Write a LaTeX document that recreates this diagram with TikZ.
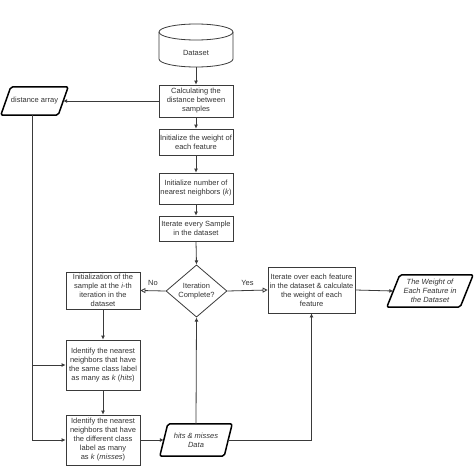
\documentclass[tikz,border=0pt]{standalone}
\usepackage{fontspec}
\setmainfont{Liberation Sans}
\usetikzlibrary{arrows.meta,shapes.geometric}
\definecolor{ln}{HTML}{3A3A3A}
\definecolor{tx}{HTML}{333333}
\begin{document}
\begin{tikzpicture}[x=1pt,y=-1pt,
  every node/.style={font=\fontsize{7.5}{9}\selectfont, text=tx},
  box/.style={draw=ln, line width=0.8pt, rectangle, inner sep=0pt, align=center},
  io/.style={inner sep=0pt, align=center},
  pgram/.style={draw=black, line width=1.5pt, rounded corners=2pt, line join=round},
  thin/.style={draw=ln, line width=0.8pt},
  flow/.style={draw=ln, line width=0.8pt, -{Latex[length=4pt,width=4pt]}},
  oflow/.style={draw=ln, line width=0.8pt, -{Triangle[open,length=5pt,width=5pt]}},
]
\useasboundingbox (0,0) rectangle (474,466);

% Dataset cylinder
\draw[thin] (196,32) ellipse [x radius=37, y radius=8];
\draw[thin] (159,32) -- (159,59) .. controls (159,63.4) and (175.6,67) .. (196,67)
  .. controls (216.4,67) and (233,63.4) .. (233,59) -- (233,32);
\node[io, minimum width=74pt, minimum height=28pt] (ds) at (196,53) {Dataset};

% main column
\node[box, minimum width=74pt, minimum height=32pt] (calc) at (196,101) {Calculating the\\distance between\\samples};
\node[box, minimum width=74pt, minimum height=26pt] (wt) at (196,142) {Initialize the weight of\\each feature};
\node[box, minimum width=74pt, minimum height=31pt] (knum) at (196,188.5) {Initialize number of\\nearest neighbors (\textit{k})};
\node[box, minimum width=74pt, minimum height=25pt] (iter) at (196,228.5) {Iterate every Sample\\in the dataset};
\node[draw=ln, line width=0.8pt, diamond, inner sep=0pt, minimum width=61pt, minimum height=48pt, align=center] (dia) at (196.5,291) {Iteration\\Complete?};

% left column
\node[box, minimum width=74pt, minimum height=37pt] (init) at (103,290.5) {Initialization of the\\sample at the \textit{i}-th\\iteration in the\\dataset};
\node[box, minimum width=74pt, minimum height=50pt] (hits) at (103,365) {Identify the nearest\\neighbors that have\\the same class label\\as many as \textit{k} (\textit{hits})};
\node[box, minimum width=74pt, minimum height=50pt] (miss) at (103,440) {Identify the nearest\\neighbors that have\\the different class\\label as many\\as \textit{k} (\textit{misses})};

% right
\node[box, minimum width=87pt, minimum height=46pt] (feat) at (311.5,290) {Iterate over each feature\\in the dataset \& calculate\\the weight of each\\feature};

% parallelograms
\node[io, minimum width=57pt, minimum height=28pt] (dist) at (34.5,101) {distance array};
\draw[pgram] ([xshift=-5pt]dist.south west) -- ([xshift=-5pt]dist.south east) -- ([xshift=5pt]dist.north east) -- ([xshift=5pt]dist.north west) -- cycle;

\node[io, minimum width=73pt, minimum height=32pt, font=\fontsize{7.5}{9}\selectfont\itshape] (wout) at (430,291) {The Weight of\\Each Feature in\\the Dataset};
\draw[pgram] ([xshift=-6.5pt]wout.south west) -- ([xshift=-6.5pt]wout.south east) -- ([xshift=6.5pt]wout.north east) -- ([xshift=6.5pt]wout.north west) -- cycle;

\node[io, minimum width=64pt, minimum height=32pt, font=\fontsize{7.5}{9}\selectfont\itshape] (hm) at (196,440) {hits \& misses\\Data};
\draw[pgram] ([xshift=-4pt]hm.south west) -- ([xshift=-4pt]hm.south east) -- ([xshift=4pt]hm.north east) -- ([xshift=4pt]hm.north west) -- cycle;

% connectors
\draw[flow] (ds.south) -- (calc.north);
\draw[flow] (calc.south) -- (wt.north);
\draw[flow] (wt.south) -- (knum.north);
\draw[flow] (knum.south) -- (iter.north);
\draw[flow] (iter.south) -- (dia.north);
\draw[flow] (calc.west) -- (dist.east);
\draw[oflow] (dia.west) -- node[above=1pt]{No} (init.east);
\draw[oflow] (dia.east) -- node[above=1pt]{Yes} (feat.west);
\draw[flow] (feat.east) -- (wout.west);
\draw[flow] (init.south) -- (hits.north);
\draw[flow] (hits.south) -- (miss.north);
\draw[flow] (miss.east) -- (hm.west);
\draw[flow] (hm.north) -- (dia.south);
\draw[flow] (hm.east) -| (feat.south);
\draw[flow] ([xshift=-2.5pt]dist.south) |- (hits.west);
\draw[flow] ([xshift=-2.5pt]dist.south) |- (miss.west);
\end{tikzpicture}
\end{document}
